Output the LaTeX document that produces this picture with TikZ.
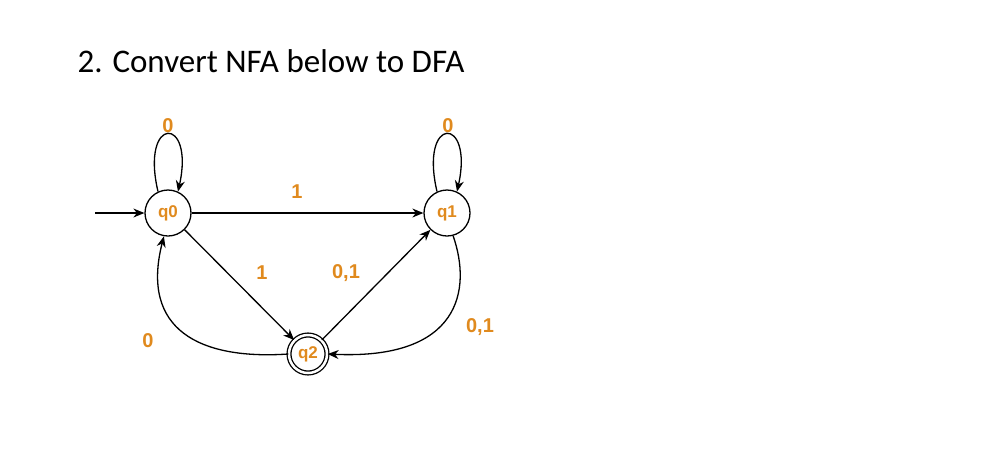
\documentclass[tikz,border=0pt]{standalone}
\usepackage{fontspec}
\setmainfont{Carlito}
\newfontfamily\lab{Liberation Sans}
\usetikzlibrary{arrows.meta}
\definecolor{org}{HTML}{E08A1E}
\begin{document}
\begin{tikzpicture}[x=1pt,y=-1pt,
  st/.style={circle,draw,line width=1.3pt,minimum size=46pt,inner sep=0pt,font=\lab\bfseries\fontsize{17}{17}\selectfont,text=org},
  acc/.style={st,double,double distance=2.5pt,minimum size=38pt},
  tr/.style={-{Stealth[length=11pt,width=9pt]},line width=1.3pt},
  lb/.style={font=\lab\bfseries\fontsize{20}{20}\selectfont,text=org}]
\useasboundingbox (0,0) rectangle (1000,448);
\node[anchor=base west,font=\fontsize{33}{33}\selectfont] (title) at (74,72) {2. Convert NFA below to DFA};
\node[st] (q0) at (168,213) {q0};
\node[st] (q1) at (447,213) {q1};
\node[acc] (q2) at (308,354) {q2};
\coordinate (s) at (95,213);
\draw[tr] (s) -- (q0);
\draw[tr] (q0.115) .. controls (140,115) and (195,115) .. (q0.65);
\draw[tr] (q1.115) .. controls (419,115) and (474,115) .. (q1.65);
\draw[tr] (q0) -- (q1);
\draw[tr] (q0) -- (q2);
\draw[tr] (q2) -- (q1);
\draw[tr] (q2.west) .. controls (200,360) and (140,330) .. (q0.260);
\draw[tr] (q1.285) .. controls (472,290) and (460,360) .. (q2.east);
\node[lb] (l1) at (168,126) {0};
\node[lb] (l2) at (448,126) {0};
\node[lb] (l3) at (297,192) {1};
\node[lb] (l4) at (262,273) {1};
\node[lb] (l5) at (346,273) {0,1};
\node[lb] (l6) at (148,341) {0};
\node[lb] (l7) at (480,327) {0,1};
\end{tikzpicture}
\end{document}
